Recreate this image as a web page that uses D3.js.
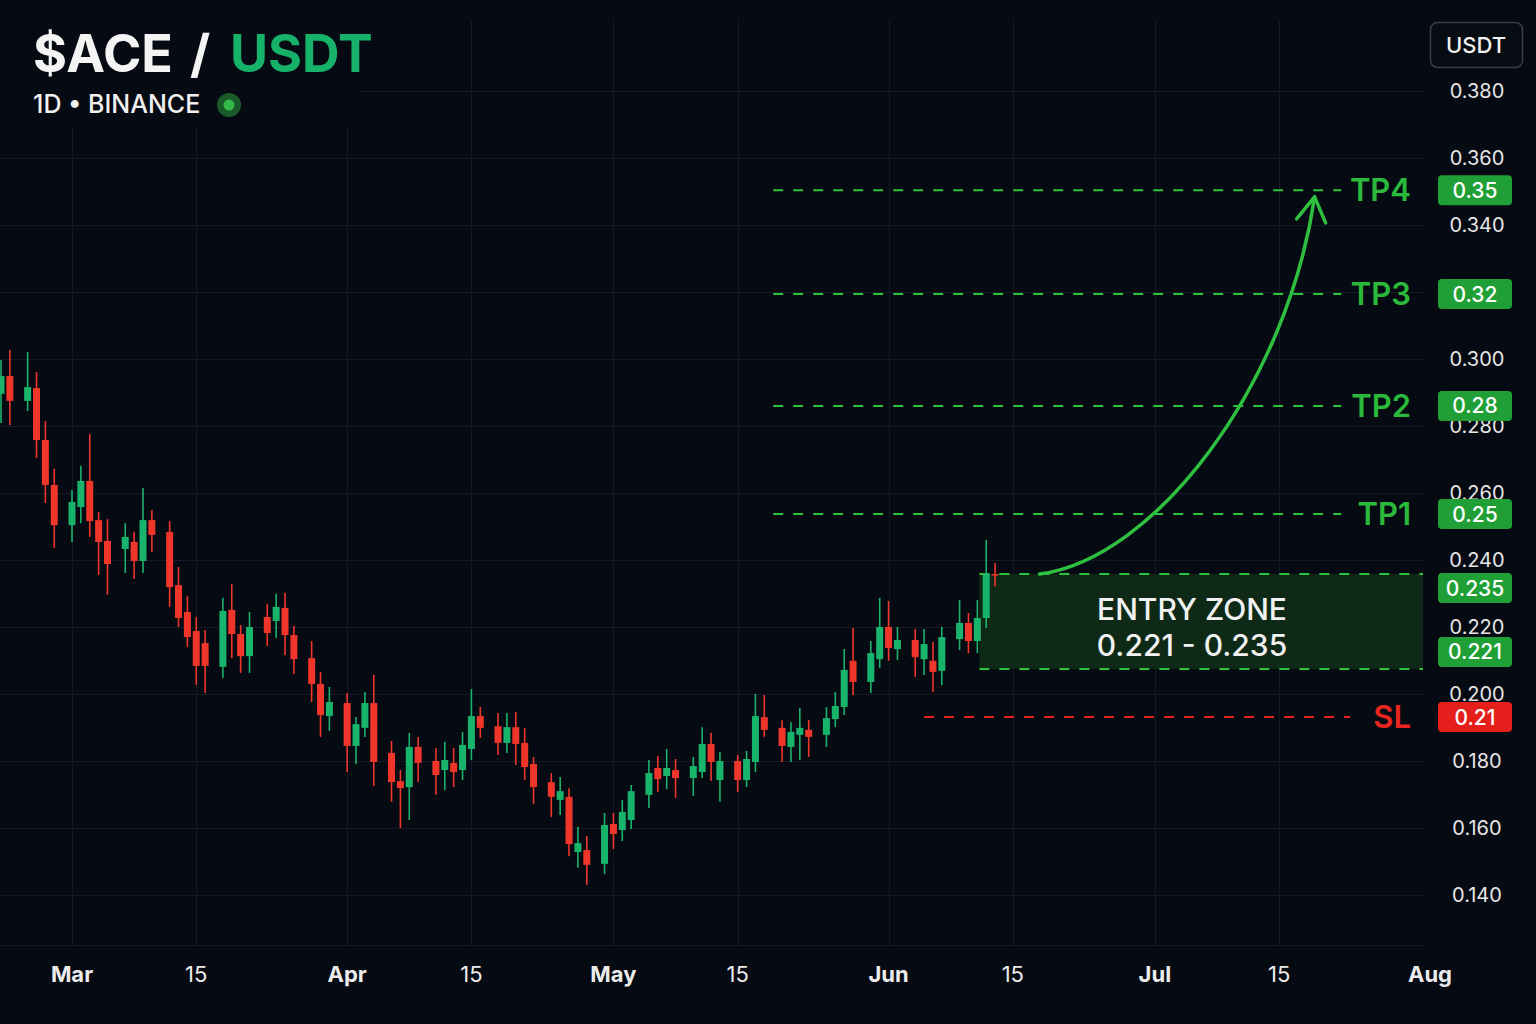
<!DOCTYPE html>
<html>
<head>
<meta charset="utf-8">
<script src="https://cdn.jsdelivr.net/npm/d3@7"></script>
<style>
  html, body { margin: 0; padding: 0; background: #060a12; }
  svg { display: block; font-family: Inter, "Noto Sans", sans-serif; }
</style>
</head>
<body>
<svg id="chart" width="1536" height="1024"></svg>
<script>
// candle dates (2025, MM-DD)
const dates = [
  "02-21","02-22","02-24","02-25","02-26","02-27","03-01","03-02","03-03","03-04",
  "03-05","03-07","03-08","03-09","03-10","03-12","03-13","03-14","03-15","03-16",
  "03-18","03-19","03-20","03-21","03-23","03-24","03-25","03-26","03-28","03-29",
  "03-30","04-01","04-02","04-03","04-04","04-06","04-07","04-08","04-09","04-11",
  "04-12","04-13","04-14","04-15","04-16","04-18","04-19","04-20","04-21","04-22",
  "04-24","04-25","04-26","04-27","04-28","04-30","05-01","05-02","05-03","05-05",
  "05-06","05-07","05-08","05-10","05-11","05-12","05-13","05-15","05-16","05-17",
  "05-18","05-20","05-21","05-22","05-23","05-25","05-26","05-27","05-28","05-30",
  "05-31","06-01","06-02","06-04","06-05","06-06","06-07","06-09","06-10","06-11",
  "06-12","06-13"
];
const opens = [
  .2896,.2949,.2875,.2913,.2758,.2624,.2504,.2558,.2636,.2519,
  .2457,.2433,.2454,.2397,.2519,.2484,.2325,.2245,.2188,.2152,
  .2081,.2251,.2179,.2113,.2230,.2218,.2257,.2176,.2107,.2030,
  .1934,.1973,.1845,.1899,.1973,.1824,.1740,.1722,.1842,.1800,
  .1773,.1794,.1773,.1836,.1934,.1904,.1854,.1901,.1854,.1791,
  .1737,.1684,.1693,.1528,.1534,.1493,.1612,.1594,.1624,.1699,
  .1779,.1755,.1773,.1749,.1767,.1851,.1743,.1800,.1743,.1797,
  .1931,.1899,.1842,.1878,.1893,.1878,.1925,.1961,.2099,.2036,
  .2104,.2200,.2134,.2161,.2104,.2099,.2069,.2164,.2212,.2158,
  .2227,.2358
];
const highs = [
  .2997,.3027,.3021,.2961,.2815,.2672,.2609,.2681,.2776,.2543,
  .2522,.2510,.2484,.2615,.2549,.2516,.2379,.2293,.2230,.2191,
  .2287,.2328,.2206,.2245,.2269,.2299,.2302,.2203,.2158,.2066,
  .2021,.2003,.1931,.2006,.2057,.1860,.1773,.1884,.1872,.1839,
  .1857,.1839,.1887,.2015,.1961,.1943,.1943,.1946,.1899,.1812,
  .1764,.1752,.1719,.1603,.1576,.1645,.1645,.1684,.1728,.1803,
  .1815,.1836,.1806,.1812,.1901,.1884,.1827,.1818,.1830,.2000,
  .1997,.1922,.1916,.1958,.1922,.1961,.2006,.2134,.2197,.2158,
  .2287,.2278,.2200,.2194,.2194,.2155,.2200,.2281,.2242,.2281,
  .2460,.2391
];
const lows = [
  .2809,.2803,.2845,.2704,.2570,.2436,.2454,.2510,.2469,.2355,
  .2296,.2361,.2343,.2361,.2424,.2260,.2200,.2140,.2027,.2003,
  .2048,.2107,.2063,.2063,.2143,.2167,.2116,.2060,.1976,.1872,
  .1890,.1767,.1791,.1872,.1725,.1678,.1600,.1624,.1737,.1699,
  .1713,.1722,.1743,.1803,.1869,.1818,.1824,.1788,.1743,.1672,
  .1633,.1639,.1516,.1481,.1430,.1463,.1537,.1561,.1597,.1660,
  .1707,.1716,.1690,.1696,.1749,.1740,.1678,.1707,.1722,.1767,
  .1872,.1797,.1797,.1803,.1812,.1842,.1901,.1937,.1997,.2003,
  .2078,.2099,.2101,.2051,.2057,.2006,.2027,.2131,.2122,.2122,
  .2197,.2322
];
const closes = [
  .2949,.2875,.2916,.2758,.2624,.2504,.2573,.2636,.2516,.2454,
  .2388,.2469,.2397,.2519,.2475,.2319,.2227,.2170,.2084,.2084,
  .2248,.2179,.2113,.2200,.2182,.2260,.2176,.2104,.2030,.1937,
  .1976,.1845,.1910,.1973,.1797,.1737,.1719,.1842,.1794,.1758,
  .1803,.1767,.1848,.1934,.1899,.1854,.1901,.1851,.1782,.1722,
  .1693,.1710,.1552,.1555,.1490,.1609,.1582,.1648,.1710,.1764,
  .1746,.1779,.1749,.1785,.1851,.1797,.1800,.1743,.1806,.1934,
  .1893,.1845,.1887,.1899,.1872,.1928,.1964,.2072,.2036,.2122,
  .2200,.2137,.2161,.2110,.2149,.2066,.2170,.2212,.2158,.2227,
  .2358,.2355
];

// trade levels: name, badge text, price where the line is drawn on the axis
const levelNames = ["TP4", "TP3", "TP2", "TP1", "SL"];
const levelTexts = ["0.35", "0.32", "0.28", "0.25", "0.21"];
const levelPrices = [0.3504, 0.3194, 0.2860, 0.2537, 0.1931];

const entryTexts = ["0.235", "0.221"];
const entryPrices = [0.2358, 0.2075];
const entryLabel = ["ENTRY ZONE", "0.221 - 0.235"];

const priceTicks = [0.14, 0.16, 0.18, 0.20, 0.22, 0.24, 0.26, 0.28, 0.30, 0.32, 0.34, 0.36, 0.38];
const dateTicks = ["2025-03-01","2025-03-15","2025-04-01","2025-04-15","2025-05-01","2025-05-15",
                   "2025-06-01","2025-06-15","2025-07-01","2025-07-15","2025-08-01"];

const GREEN = "#19b46c", RED = "#f0362b", LEVEL_GREEN = "#2cc23c", BADGE_GREEN = "#1f9f35";
const plotRight = 1423, plotBottom = 945;

const parse = d3.utcParse("%Y-%m-%d");
const candles = dates.map((d, i) => ({
  date: parse("2025-" + d), open: opens[i], high: highs[i], low: lows[i], close: closes[i]
}));

const x = d3.scaleUtc().domain([parse("2025-03-01"), parse("2025-08-01")]).range([72, 1430]);
const y = d3.scaleLinear().domain([0.14, 0.38]).range([895, 91]);

const svg = d3.select("#chart");
svg.append("rect").attr("width", 1536).attr("height", 1024).attr("fill", "#060a12");

// grid
const grid = svg.append("g").attr("stroke", "#131a25").attr("stroke-width", 1);
grid.selectAll(".hg").data(priceTicks).enter().append("line")
    .attr("x1", 0).attr("x2", plotRight)
    .attr("y1", d => Math.round(y(d)) + 0.5).attr("y2", d => Math.round(y(d)) + 0.5);
grid.selectAll(".vg").data(dateTicks.map(parse).filter(d => x(d) < plotRight)).enter().append("line")
    .attr("y1", 20).attr("y2", plotBottom)
    .attr("x1", d => Math.round(x(d)) + 0.5).attr("x2", d => Math.round(x(d)) + 0.5);
grid.append("line").attr("x1", 0).attr("x2", plotRight)
    .attr("y1", plotBottom + 0.5).attr("y2", plotBottom + 0.5);

// header backdrop hides grid behind the title
svg.append("rect").attr("x", 0).attr("y", 0).attr("width", 360).attr("height", 128).attr("fill", "#060a12");

// entry zone
const zoneLeft = x(parse("2025-06-11")) + 2;
svg.append("rect")
    .attr("x", zoneLeft).attr("y", y(entryPrices[0]))
    .attr("width", plotRight - zoneLeft).attr("height", y(entryPrices[1]) - y(entryPrices[0]))
    .attr("fill", "#0e2a17");
svg.selectAll(".entry-line").data(entryPrices).enter().append("line")
    .attr("x1", zoneLeft).attr("x2", plotRight)
    .attr("y1", d => y(d)).attr("y2", d => y(d))
    .attr("stroke", LEVEL_GREEN).attr("stroke-width", 2).attr("stroke-dasharray", "10 10");
svg.append("text")
    .attr("text-anchor", "middle")
    .attr("fill", "#f2f2f2").attr("font-size", 30).attr("font-weight", 500)
    .selectAll("tspan").data(entryLabel).enter().append("tspan")
    .attr("x", 1192)
    .attr("y", (d, i) => y(entryPrices[0]) + 46 + i * 36)
    .text(d => d);

// level lines
const levels = levelNames.map((n, i) => ({ name: n, text: levelTexts[i], price: levelPrices[i] }));
svg.selectAll(".level").data(levels).enter().append("line")
    .attr("x1", d => d.name === "SL" ? x(parse("2025-06-05")) : x(parse("2025-05-19")))
    .attr("x2", d => d.name === "SL" ? x(parse("2025-07-23")) : x(parse("2025-07-22")))
    .attr("y1", d => y(d.price)).attr("y2", d => y(d.price))
    .attr("stroke", d => d.name === "SL" ? "#e3241e" : LEVEL_GREEN)
    .attr("stroke-width", 2).attr("stroke-dasharray", "10 10");
svg.selectAll(".level-name").data(levels).enter().append("text")
    .attr("x", 1411).attr("y", d => y(d.price)).attr("dy", "0.36em")
    .attr("text-anchor", "end").attr("font-size", 31).attr("font-weight", 600)
    .attr("fill", d => d.name === "SL" ? "#e8261f" : "#2bb93b")
    .text(d => d.name);

// candles
const cw = 7;
const cg = svg.append("g").selectAll("g").data(candles).enter().append("g")
    .attr("transform", d => `translate(${x(d.date)},0)`);
cg.append("line")
    .attr("y1", d => y(d.high)).attr("y2", d => y(d.low))
    .attr("stroke", d => d.close >= d.open ? GREEN : RED).attr("stroke-width", 1.6);
cg.append("rect")
    .attr("x", -cw / 2).attr("width", cw)
    .attr("y", d => y(Math.max(d.open, d.close)))
    .attr("height", d => Math.max(1.5, Math.abs(y(d.open) - y(d.close))))
    .attr("fill", d => d.close >= d.open ? GREEN : RED);

// projection arrow
const a0 = [x(parse("2025-06-18")), y(0.2358)];
const a1 = [x(parse("2025-07-19")), y(0.3484)];
const dx = a1[0] - a0[0], dy = a1[1] - a0[1];
const arrow = d3.path();
arrow.moveTo(a0[0], a0[1]);
arrow.bezierCurveTo(a0[0] + dx * 0.42, a0[1] + dy * 0.04, a0[0] + dx * 0.9, a0[1] + dy * 0.5, a1[0], a1[1]);
svg.append("path").attr("d", arrow.toString())
    .attr("fill", "none").attr("stroke", "#2fbf41").attr("stroke-width", 3.5).attr("stroke-linecap", "round");
svg.append("path")
    .attr("d", `M${a1[0] - 18},${a1[1] + 22} L${a1[0]},${a1[1]} L${a1[0] + 11},${a1[1] + 26}`)
    .attr("fill", "none").attr("stroke", "#2fbf41").attr("stroke-width", 3.5)
    .attr("stroke-linecap", "round").attr("stroke-linejoin", "round");

// right price axis
svg.append("g").selectAll("text").data(priceTicks).enter().append("text")
    .attr("x", 1477).attr("y", d => y(d)).attr("dy", "0.36em")
    .attr("text-anchor", "middle").attr("font-size", 20).attr("fill", "#e6e6e6")
    .text(d => d3.format(".3f")(d));

// price badges
const badges = levels.map(d => ({ text: d.text, cy: y(d.price), fill: d.name === "SL" ? "#e5201c" : BADGE_GREEN }))
  .concat([
    { text: entryTexts[0], cy: y(entryPrices[0]) + 14, fill: BADGE_GREEN },
    { text: entryTexts[1], cy: y(entryPrices[1]) - 17, fill: BADGE_GREEN }
  ]);
const bg = svg.append("g").selectAll("g").data(badges).enter().append("g");
bg.append("rect")
    .attr("x", 1438).attr("width", 74).attr("y", d => d.cy - 15).attr("height", 30).attr("rx", 4)
    .attr("fill", d => d.fill);
bg.append("text")
    .attr("x", 1475).attr("y", d => d.cy).attr("dy", "0.36em").attr("text-anchor", "middle")
    .attr("font-size", 21).attr("font-weight", 500).attr("fill", "#ffffff")
    .text(d => d.text);

// currency box
svg.append("rect").attr("x", 1430.5).attr("y", 22.5).attr("width", 92).attr("height", 45).attr("rx", 7)
    .attr("fill", "#070b12").attr("stroke", "#3a404b").attr("stroke-width", 1.5);
svg.append("text").attr("x", 1476).attr("y", 45).attr("dy", "0.36em").attr("text-anchor", "middle")
    .attr("font-size", 22).attr("font-weight", 500).attr("fill", "#f2f2f2").text("USDT");

// bottom date axis
const monthFmt = d3.utcFormat("%b"), dayFmt = d3.utcFormat("%-d");
svg.append("g").selectAll("text").data(dateTicks.map(parse)).enter().append("text")
    .attr("x", d => x(d)).attr("y", 974).attr("dy", "0.36em").attr("text-anchor", "middle")
    .attr("font-size", 22).attr("fill", "#ececec")
    .attr("font-weight", d => d.getUTCDate() === 1 ? 700 : 400)
    .text(d => d.getUTCDate() === 1 ? monthFmt(d) : dayFmt(d));

// title
const title = svg.append("text").attr("y", 72).attr("font-size", 52).attr("font-weight", 700);
title.append("tspan").attr("x", 33).attr("fill", "#f4f4f4").text("$ACE");
title.append("tspan").attr("x", 190).attr("fill", "#f4f4f4").text("/");
title.append("tspan").attr("x", 230).attr("fill", "#17b26a").text("USDT");
svg.append("text").attr("x", 33).attr("y", 113)
    .attr("font-size", 25).attr("font-weight", 500).attr("fill", "#f0f0f0")
    .text("1D • BINANCE");
svg.append("circle").attr("cx", 229).attr("cy", 105).attr("r", 12).attr("fill", "#1a5a28");
svg.append("circle").attr("cx", 229).attr("cy", 105).attr("r", 5.5).attr("fill", "#34b84a");
</script>
</body>
</html>
